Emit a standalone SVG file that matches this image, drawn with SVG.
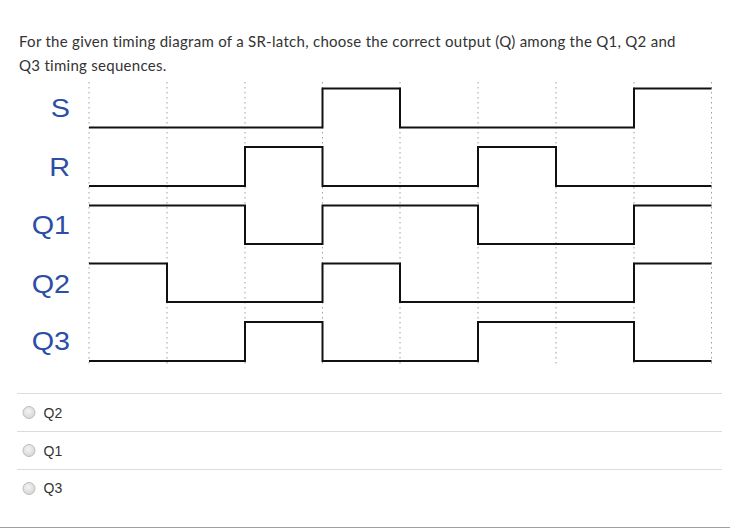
<svg xmlns="http://www.w3.org/2000/svg" width="730" height="528" viewBox="0 0 730 528">
<defs>
<radialGradient id="rg" cx="0.45" cy="0.4" r="0.65">
<stop offset="0" stop-color="#f4f4f4"/>
<stop offset="1" stop-color="#d4d4d4"/>
</radialGradient>
<style>
.q{font-family:"Lato","Liberation Sans",sans-serif;font-size:15px;letter-spacing:0.28px;fill:#333}
.lbl{font-family:"Liberation Sans",Arial,sans-serif;font-size:25px;fill:#2b4ea6;text-anchor:end}
.grid{stroke:#a0a0a0;stroke-width:1;stroke-dasharray:1.5 3.5}
.sig{fill:none;stroke:#111;stroke-width:2;stroke-linejoin:miter}
.sep{stroke:#dcdcdc;stroke-width:1}
.opt{font-family:"Liberation Sans",Arial,sans-serif;font-size:14px;fill:#333}
.radio{fill:url(#rg);stroke:#bdbdbd;stroke-width:1}
</style>
</defs>
<rect width="730" height="528" fill="#fff"/>
<g id="question">
<text class="q" x="19" y="47">For the given timing diagram of a SR-latch, choose the correct output (Q) among the Q1, Q2 and</text>
<text class="q" x="19" y="71">Q3 timing sequences.</text>
</g>
<g id="grid">
<line class="grid" x1="89" y1="82" x2="89" y2="367"/>
<line class="grid" x1="167" y1="82" x2="167" y2="367"/>
<line class="grid" x1="245" y1="82" x2="245" y2="367"/>
<line class="grid" x1="322.5" y1="82" x2="322.5" y2="367"/>
<line class="grid" x1="400" y1="82" x2="400" y2="367"/>
<line class="grid" x1="478" y1="82" x2="478" y2="367"/>
<line class="grid" x1="556" y1="82" x2="556" y2="367"/>
<line class="grid" x1="634" y1="82" x2="634" y2="367"/>
<line class="grid" x1="711.5" y1="82" x2="711.5" y2="367"/>
</g>
<g id="labels">
<text class="lbl" transform="translate(70,117) scale(1.15,1)">S</text>
<text class="lbl" transform="translate(70,175.5) scale(1.15,1)">R</text>
<text class="lbl" transform="translate(70,234) scale(1.15,1)">Q1</text>
<text class="lbl" transform="translate(70,292.5) scale(1.15,1)">Q2</text>
<text class="lbl" transform="translate(70,349.5) scale(1.15,1)">Q3</text>
</g>
<g id="signals">
<polyline id="sigS" class="sig" points="89,127.5 322.5,127.5 322.5,88.5 400,88.5 400,127.5 634,127.5 634,88.5 711.5,88.5"/>
<polyline id="sigR" class="sig" points="89,186 245,186 245,147 322.5,147 322.5,186 478,186 478,147 556,147 556,186 711.5,186"/>
<polyline id="sigQ1" class="sig" points="89,205.5 245,205.5 245,244 322.5,244 322.5,205.5 478,205.5 478,244 634,244 634,205.5 711.5,205.5"/>
<polyline id="sigQ2" class="sig" points="89,263.5 167,263.5 167,302 322.5,302 322.5,263.5 400,263.5 400,302 634,302 634,263.5 711.5,263.5"/>
<polyline id="sigQ3" class="sig" points="89,361 245,361 245,322 322.5,322 322.5,361 478,361 478,322 634,322 634,361 711.5,361"/>
</g>
<g id="options">
<line class="sep" x1="17" y1="393.5" x2="722" y2="393.5"/>
<line class="sep" x1="17" y1="431.5" x2="722" y2="431.5"/>
<line class="sep" x1="17" y1="469.5" x2="722" y2="469.5"/>
<g id="optQ2"><circle class="radio" cx="29" cy="412.5" r="6"/><text class="opt" x="43.5" y="417.5">Q2</text></g>
<g id="optQ1"><circle class="radio" cx="29" cy="450.5" r="6"/><text class="opt" x="43.5" y="455.5">Q1</text></g>
<g id="optQ3"><circle class="radio" cx="29" cy="488.5" r="6"/><text class="opt" x="43.5" y="493">Q3</text></g>
<line x1="0" y1="527.5" x2="730" y2="527.5" stroke="#a0a0a0" stroke-width="1"/>
</g>
</svg>
